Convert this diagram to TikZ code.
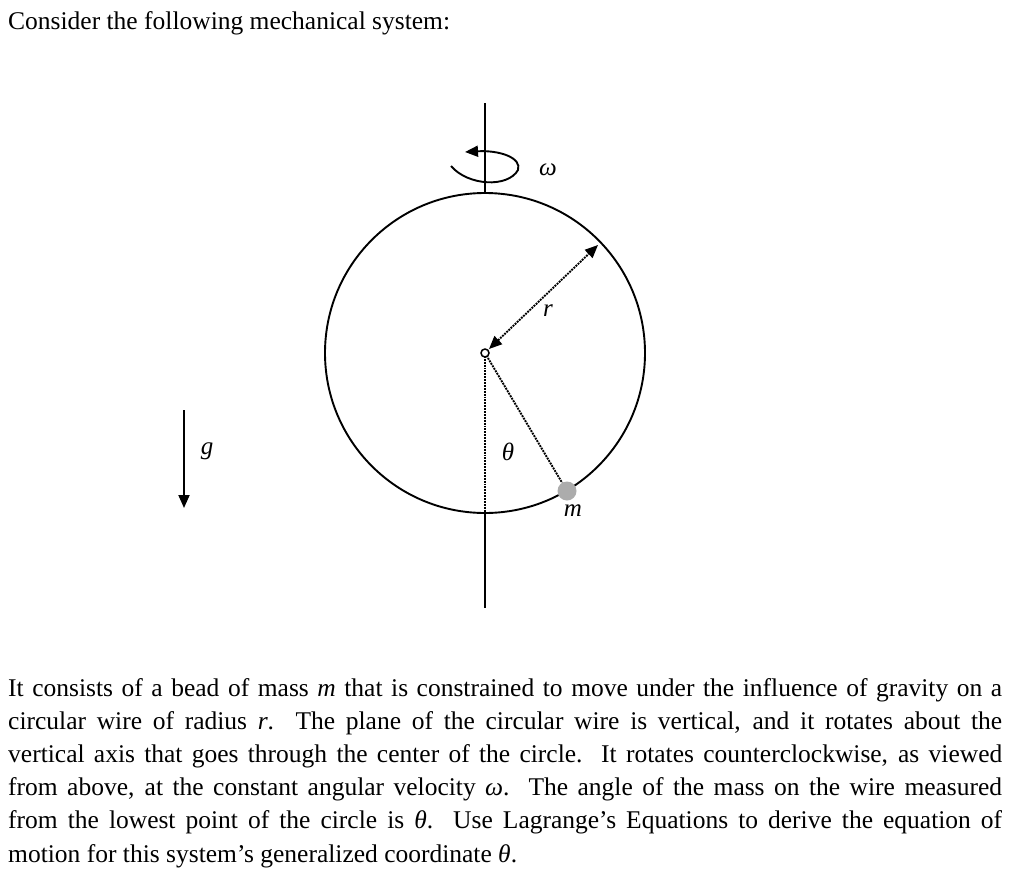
\documentclass[tikz,border=0pt]{standalone}
\usepackage{fontspec}
\setmainfont{Liberation Serif}
\usetikzlibrary{arrows.meta}
\begin{document}
\begin{tikzpicture}[x=1pt,y=-1pt,
  dotl/.style={densely dotted,line width=1.9pt},
  tip/.style={-{Triangle[length=13pt,width=11pt]}},
  lab/.style={font=\fontsize{25}{28}\selectfont\itshape}]
\useasboundingbox (0,0) rectangle (1010,881);
\node[anchor=base west,inner sep=0,font=\fontsize{25.5}{28}\selectfont] (title) at (8,29) {Consider the following mechanical system:};
\coordinate (c) at (485,353);
\draw[line width=1.9pt] (c) circle[radius=160];
\coordinate (top) at (485,193);
\coordinate (axt) at (485,103);
\coordinate (axb) at (485,608);
\coordinate (bot) at (485,513);
\draw[line width=1.9pt] (axt) -- (top);
\draw[line width=1.9pt] (bot) -- (axb);
\draw[dotl] (c) -- (bot);
% rotation arrow
\draw[line width=1.9pt,tip] (451,166) .. controls (468,186) and (508,188) .. (518,170) .. controls (522,158) and (500,150) .. (465,152);
\node[lab] (w) at (548,170) {ω};
% radius arrow
\coordinate (rend) at (598,245);
\draw[dotl,{Triangle[length=13pt,width=11pt]}-{Triangle[length=13pt,width=11pt]}] (489,349) -- (rend);
\node[lab] (r) at (548,311) {r};
% bead
\node[circle,fill=gray!65,inner sep=0,minimum size=19pt] (bead) at (567,491) {};
\draw[dotl] (c) -- (bead);
\node[circle,draw,fill=white,line width=1.5pt,inner sep=0,minimum size=8pt] (pivot) at (c) {};
\node[lab] (th) at (508,452) {θ};
\node[lab] (m) at (573,511) {m};
% gravity
\coordinate (g1) at (184,410);
\coordinate (g2) at (184,508);
\draw[line width=1.9pt,tip] (g1) -- (g2);
\node[lab] (g) at (207,451) {g};
\node[anchor=north west,inner sep=0,text width=994pt,align=justify,font=\fontsize{25.5}{33.2}\selectfont] (para) at (8,678)
{It consists of a bead of mass \textit{m} that is constrained to move under the influence of gravity on a\linebreak circular wire of radius \textit{r}.\ \ The plane of the circular wire is vertical, and it rotates about the\linebreak vertical axis that goes through the center of the circle.\ \ It rotates counterclockwise, as viewed\linebreak from above, at the constant angular velocity \textit{ω}.\ \ The angle of the mass on the wire measured\linebreak from the lowest point of the circle is \textit{θ}.\ \ Use Lagrange's Equations to derive the equation of\linebreak motion for this system's generalized coordinate \textit{θ}.};
\end{tikzpicture}
\end{document}
